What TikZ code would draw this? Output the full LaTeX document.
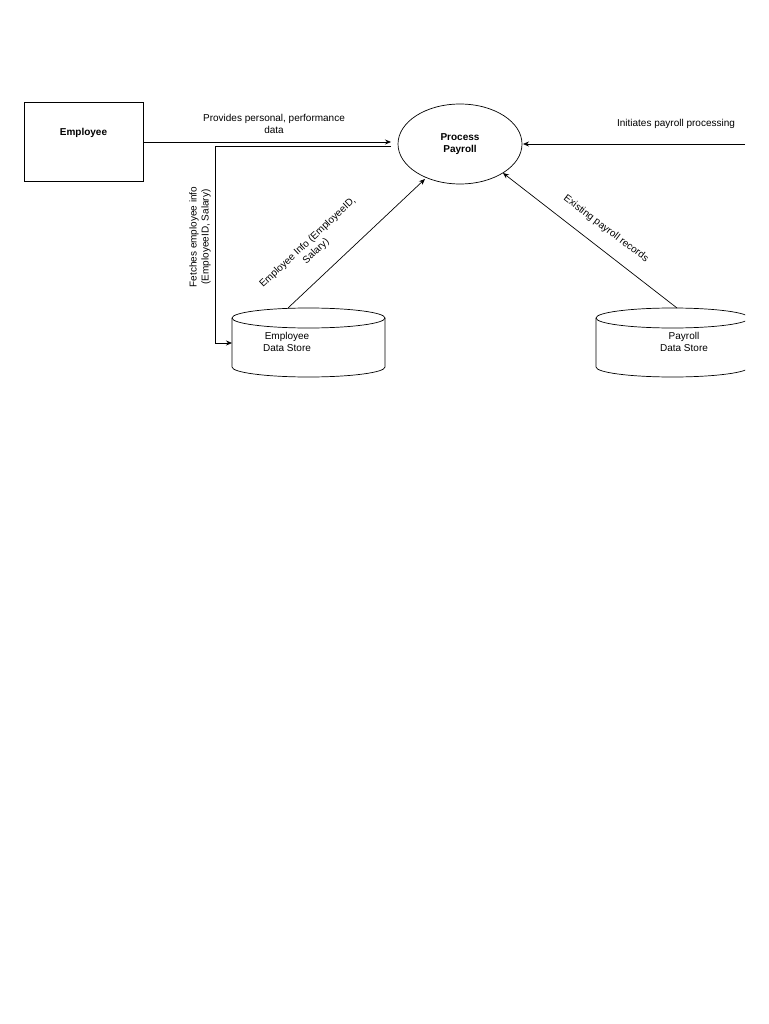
\documentclass[tikz,border=0pt]{standalone}
\usepackage{fontspec}
\setmainfont{Liberation Sans}
\usetikzlibrary{arrows.meta,shapes.geometric}
\begin{document}
\begin{tikzpicture}[x=1pt,y=-1pt,
  lbl/.style={font=\fontsize{10}{12}\selectfont,align=center,inner sep=1pt},
  flow/.style={draw,line width=0.7pt,-{Stealth[length=6pt,width=5pt]}}]
\useasboundingbox (0,0) rectangle (768,1024);
\fill[white] (0,0) rectangle (768,1024);
\node[draw,line width=0.7pt,minimum width=119pt,minimum height=79pt] (emp) at (83.5,141.5) {};
\node[lbl,font=\fontsize{10}{12}\selectfont\bfseries] (empt) at (83.5,133) {Employee};
\node[draw,ellipse,line width=0.7pt,minimum width=124pt,minimum height=80pt,font=\fontsize{10}{12}\selectfont\bfseries,align=center] (pp) at (460,144) {Process\\Payroll};
% employee data store
\draw[line width=0.7pt] (232,318) -- (232,367) arc[start angle=180,end angle=0,x radius=76.5,y radius=10] -- (385,318);
\draw[line width=0.7pt] (308.5,318) ellipse[x radius=76.5,y radius=10];
\node[lbl] (eds) at (287,342) {Employee\\Data Store};
\coordinate (edsl) at (232,343);
\coordinate (edst) at (288,308);
% payroll data store (clipped)
\begin{scope}
\clip (0,0) rectangle (745,1024);
\draw[line width=0.7pt] (596,318) -- (596,367) arc[start angle=180,end angle=0,x radius=76.5,y radius=10] -- (749,318);
\draw[line width=0.7pt] (672.5,318) ellipse[x radius=76.5,y radius=10];
\end{scope}
\node[lbl] (pds) at (684,342) {Payroll\\Data Store};
\coordinate (pdst) at (677,308);
\coordinate (rt) at (745,144);
\coordinate (fk) at (215,146);
% flows
\draw[flow] (emp.east |- 0,142) -- (391,142);
\node[lbl] at (274,124) {Provides personal, performance\\data};
\draw[line width=0.7pt] (391,146) -- (fk) -- (215,343);
\draw[flow] (215,343) -- (edsl);
\node[lbl,rotate=90] at (200,237) {Fetches employee info\\(EmployeeID, Salary)};
\draw[flow] (edst) -- (425,179);
\node[lbl,rotate=43] at (312,247) {Employee Info (EmployeeID,\\Salary)};
\draw[flow] (pdst) -- (503,173);
\node[lbl,rotate=-37] at (606,229) {Existing payroll records};
\draw[flow] (rt) -- (523,144);
\node[lbl] at (676,124) {Initiates payroll processing};
\end{tikzpicture}
\end{document}
